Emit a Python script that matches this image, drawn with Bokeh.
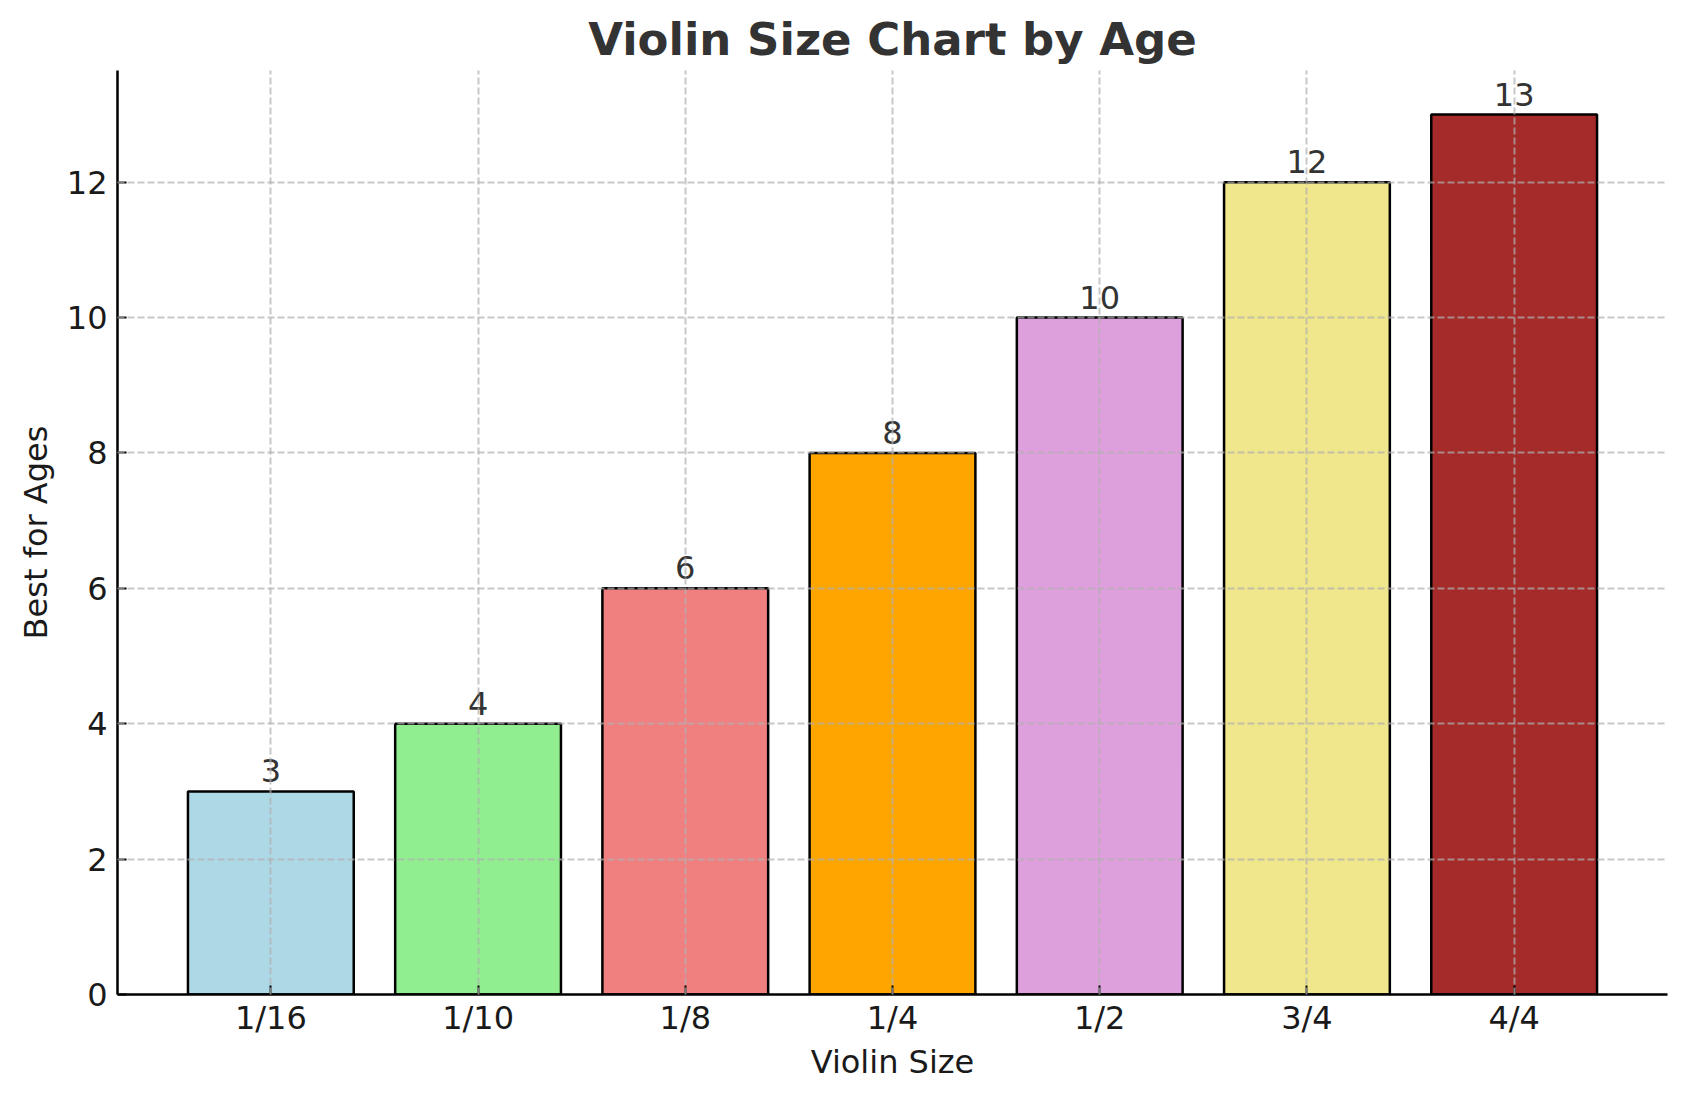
from bokeh.plotting import figure
from bokeh.models import FactorRange, Range1d, ColumnDataSource, FixedTicker
from bokeh.core.properties import value
from bokeh.embed import file_html
from bokeh.resources import INLINE

sizes = ["1/16", "1/10", "1/8", "1/4", "1/2", "3/4", "4/4"]
ages = [3, 4, 6, 8, 10, 12, 13]
colors = ["#ADD8E6", "#90EE90", "#F08080", "#FFA500", "#DDA0DD", "#F0E68C", "#A52A2A"]
y_ticks = [0, 2, 4, 6, 8, 10, 12]

FONT = "DejaVu Sans"

src = ColumnDataSource(dict(size=sizes, age=ages, color=colors,
                            label=[str(a) for a in ages]))

p = figure(width=1670, height=1085, output_backend="svg", toolbar_location=None,
           x_range=FactorRange(factors=sizes, range_padding=0.24, range_padding_units="absolute"),
           y_range=Range1d(0, 13.65),
           min_border_left=117, min_border_right=3, min_border_top=70, min_border_bottom=91)

p.vbar(x="size", top="age", width=0.8, bottom=0, source=src, fill_color="color",
       line_color="black", line_width=2.5)

p.text(x="size", y="age", text="label", source=src, text_align="center",
       text_baseline="bottom", text_font=value(FONT), text_font_size="32px",
       text_color="#333333", y_offset=-9)

p.title.text = "Violin Size Chart by Age"
p.title.align = "center"
p.title.text_font = FONT
p.title.text_font_size = "45px"
p.title.text_font_style = "bold"
p.title.text_color = "#333333"

p.outline_line_color = None
p.background_fill_color = "white"
p.border_fill_color = "white"

for ax in (p.xaxis[0], p.yaxis[0]):
    ax.axis_line_color = "black"
    ax.axis_line_width = 2.5
    ax.major_tick_line_color = "black"
    ax.major_tick_line_width = 2
    ax.major_tick_in = 9
    ax.major_tick_out = 0
    ax.minor_tick_line_color = None
    ax.major_label_text_font = FONT
    ax.major_label_text_font_size = "32px"
    ax.major_label_text_color = "#1a1a1a"
    ax.axis_label_text_font = FONT
    ax.axis_label_text_font_size = "32px"
    ax.axis_label_text_font_style = "normal"
    ax.axis_label_text_color = "#1a1a1a"

p.xaxis.axis_label = "Violin Size"
p.yaxis.axis_label = "Best for Ages"
p.xaxis.major_label_standoff = 4
p.yaxis.major_label_standoff = 10
p.xaxis.axis_label_standoff = 3
p.yaxis.axis_label_standoff = 9
p.yaxis.ticker = FixedTicker(ticks=y_ticks)

for g in (p.xgrid[0], p.ygrid[0]):
    g.grid_line_color = "#b0b0b0"
    g.grid_line_alpha = 0.7
    g.grid_line_width = 2
    g.grid_line_dash = "7 3"
    g.level = "annotation"
p.ygrid.ticker = FixedTicker(ticks=y_ticks)

open("out.html", "w").write(file_html(p, INLINE))
